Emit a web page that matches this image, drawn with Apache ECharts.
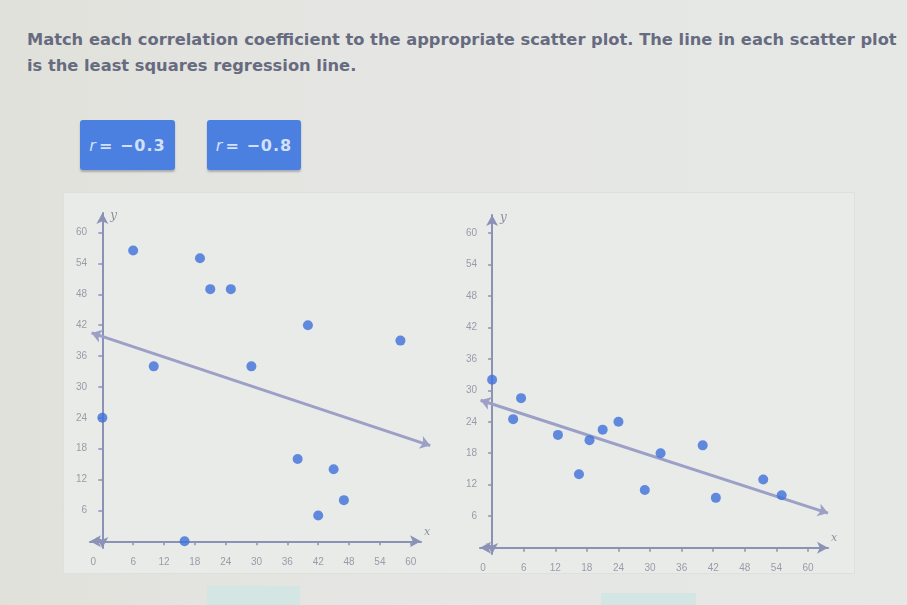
<!DOCTYPE html>
<html>
<head>
<meta charset="utf-8">
<script src="https://cdn.jsdelivr.net/npm/echarts@6/dist/echarts.min.js"></script>
<style>
  html, body { margin:0; padding:0; width:907px; height:605px; overflow:hidden; }
  body { background: linear-gradient(90deg, #e1e1db 0%, #e5e6e3 40%, #e6e8e6 100%); position:relative; font-family:"DejaVu Sans", sans-serif; }
  #q { position:absolute; left:27px; top:27px; font-size:16.3px; font-weight:700; color:#676b80; line-height:26px; white-space:nowrap; }
  .btn { position:absolute; top:120px; height:50px; background:#4b7fe0; border-radius:3px; box-shadow:0 2px 2px rgba(60,70,90,0.35); color:#d3e0fb; font-size:16px; font-weight:700; display:flex; align-items:center; justify-content:center; letter-spacing:1px; font-family:"DejaVu Sans", sans-serif; }
  .btn i { font-family:"DejaVu Sans", sans-serif; font-weight:400; margin-right:2px; }
  #panel { position:absolute; left:63px; top:192px; width:790px; height:380px; background:#e9ebe9; border:1px solid #dde0de; }
  .drop { position:absolute; background:#d4e6e3; }
  #chart { position:absolute; left:0; top:0; width:907px; height:605px; }
</style>
</head>
<body>
<div id="q">Match each correlation coefficient to the appropriate scatter plot. The line in each scatter plot<br>is the least squares regression line.</div>
<div class="btn" style="left:80px;width:95px;"><i>r</i> = −0.3</div>
<div class="btn" style="left:207px;width:94px;"><i>r</i> = −0.8</div>
<div id="panel"></div>
<div class="drop" style="left:207px;top:586px;width:93px;height:19px;"></div>
<div class="drop" style="left:601px;top:593px;width:95px;height:12px;"></div>
<div id="chart"></div>
<script>
// ---- data ----
var xTicks = [0, 6, 12, 18, 24, 30, 36, 42, 48, 54, 60];
var yTicks = [6, 12, 18, 24, 30, 36, 42, 48, 54, 60];

var leftX = [6, 19, 21, 25, 40, 58, 10, 29, 0, 38, 45, 47, 42, 16];
var leftY = [56.5, 55, 49, 49, 42, 39, 34, 34, 24, 16, 14, 8, 5, 0];
var leftLineX = [-2.1, 63.8];
var leftLineY = [40.5, 18.6];

var rightX = [0, 5.5, 4, 12.5, 18.5, 21, 24, 16.5, 32, 29, 40, 42.5, 51.5, 55];
var rightY = [32, 28.5, 24.5, 21.5, 20.5, 22.5, 24, 14, 18, 11, 19.5, 9.5, 13, 10];
var rightLineX = [-2.2, 63.8];
var rightLineY = [28.1, 6.6];

function pairs(xs, ys) { return xs.map(function (x, i) { return [x, ys[i]]; }); }

var axisColor = '#8c91b6';
var labelColor = '#9a9ba8';

function xAxisDef(gi, min, max) {
  return {
    gridIndex: gi, type: 'value', min: min, max: max,
    splitLine: { show: false },
    axisLine: { onZero: true, symbol: ['arrow', 'arrow'], symbolSize: [9, 11], lineStyle: { color: axisColor, width: 2 } },
    axisTick: { customValues: xTicks.slice(1), length: 4, lineStyle: { color: axisColor, width: 1.5 } },
    axisLabel: {
      customValues: xTicks, margin: 9, fontSize: 10, color: labelColor, fontFamily: 'Liberation Sans',
      formatter: function (v) { return v === 0 ? '{z|0}' : String(v); },
      rich: { z: { padding: [0, 18, 4, 0], fontSize: 10, color: labelColor } }
    },
    name: 'x', nameLocation: 'end', nameGap: 3,
    nameTextStyle: { fontStyle: 'italic', color: '#8e8f9c', fontSize: 11, fontFamily: 'DejaVu Serif', verticalAlign: 'bottom', padding: [0, 0, 4, 0] }
  };
}
function yAxisDef(gi, min, max) {
  return {
    gridIndex: gi, type: 'value', min: min, max: max,
    splitLine: { show: false },
    axisLine: { onZero: true, symbol: ['arrow', 'arrow'], symbolSize: [9, 11], lineStyle: { color: axisColor, width: 2 } },
    axisTick: { customValues: yTicks, length: 4, lineStyle: { color: axisColor, width: 1.5 } },
    axisLabel: { customValues: yTicks, margin: 3, fontSize: 10, color: labelColor, fontFamily: 'Liberation Sans' },
    name: 'y', nameLocation: 'end', nameGap: -3,
    nameTextStyle: { fontStyle: 'italic', color: '#8e8f9c', fontSize: 12, fontFamily: 'DejaVu Serif', align: 'left', verticalAlign: 'middle', padding: [0, 0, 0, 8] }
  };
}

var chart = echarts.init(document.getElementById('chart'), null, { renderer: 'canvas' });
chart.setOption({
  animation: false,
  backgroundColor: 'transparent',
  grid: [
    { left: 90, top: 213, width: 331, height: 335 },
    { left: 480, top: 215, width: 348, height: 339 }
  ],
  xAxis: [xAxisDef(0, -2.4, 62), xAxisDef(1, -2.3, 63.8)],
  yAxis: [yAxisDef(0, -1.3, 63.8), yAxisDef(1, -1.2, 63.4)],
  series: [
    {
      type: 'lines', coordinateSystem: 'cartesian2d', xAxisIndex: 0, yAxisIndex: 0, clip: false, z: 1,
      symbol: ['arrow', 'arrow'], symbolSize: 10,
      lineStyle: { color: '#9ca0c6', width: 3, opacity: 1 },
      data: [{ coords: pairs(leftLineX, leftLineY) }]
    },
    {
      type: 'lines', coordinateSystem: 'cartesian2d', xAxisIndex: 1, yAxisIndex: 1, clip: false, z: 1,
      symbol: ['arrow', 'arrow'], symbolSize: 10,
      lineStyle: { color: '#9ca0c6', width: 3, opacity: 1 },
      data: [{ coords: pairs(rightLineX, rightLineY) }]
    },
    {
      type: 'scatter', xAxisIndex: 0, yAxisIndex: 0, z: 3, clip: false,
      symbolSize: 10, itemStyle: { color: '#3d70d9' },
      data: pairs(leftX, leftY)
    },
    {
      type: 'scatter', xAxisIndex: 1, yAxisIndex: 1, z: 3, clip: false,
      symbolSize: 10, itemStyle: { color: '#3d70d9' },
      data: pairs(rightX, rightY)
    }
  ]
});
</script>
</body>
</html>
